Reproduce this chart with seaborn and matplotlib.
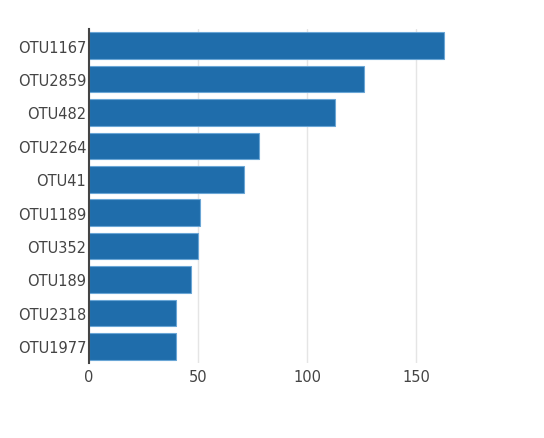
import matplotlib
matplotlib.use("Agg")
import matplotlib.pyplot as plt
import seaborn as sns
import pandas as pd

otus = ["OTU1167", "OTU2859", "OTU482", "OTU2264", "OTU41",
        "OTU1189", "OTU352", "OTU189", "OTU2318", "OTU1977"]
counts = [163, 126, 113, 78, 71, 51, 50, 47, 40, 40]
xticks = [0, 50, 100, 150]

df = pd.DataFrame({"otu": otus, "count": counts})

sns.set_theme(style="white")
plt.rcParams["font.family"] = ["DejaVu Sans"]

fig = plt.figure(figsize=(5.44, 4.39), dpi=100)
ax = fig.add_axes([89 / 544, 1 - 364 / 439, (464 - 89) / 544, (364 - 30) / 439])

sns.barplot(data=df, x="count", y="otu", order=otus, orient="h",
            color="#1f6dab", saturation=1, width=0.8,
            edgecolor="#6aa6d6", linewidth=0.8, ax=ax, zorder=3)

ax.set_xlim(0, 172)
ax.set_ylim(9.5, -0.5)
ax.set_xticks(xticks)
ax.set_xticklabels([str(t) for t in xticks])
ax.grid(axis="x", color="#e5e5e5", linewidth=1, zorder=0)
ax.set_axisbelow(True)
ax.set_xlabel("")
ax.set_ylabel("")
for s in ["top", "right", "bottom"]:
    ax.spines[s].set_visible(False)
ax.spines["left"].set_color("#444444")
ax.spines["left"].set_linewidth(1.5)
ax.spines["left"].set_zorder(5)
ax.tick_params(axis="both", length=0, labelsize=10.5, labelcolor="#444444")
ax.tick_params(axis="y", pad=2)
ax.tick_params(axis="x", pad=4)

fig.savefig("out.png", dpi=100)
